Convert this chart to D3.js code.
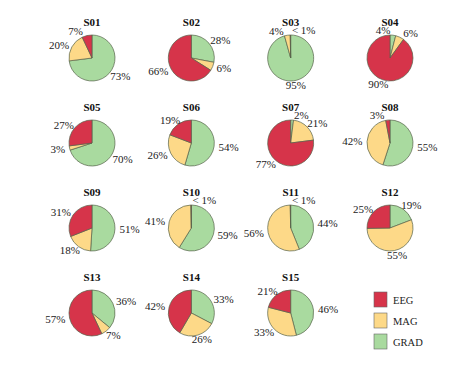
<!DOCTYPE html>
<html>
<head>
<meta charset="utf-8">
<script src="https://cdn.jsdelivr.net/npm/d3@7"></script>
<style>
  body { margin: 0; background: #fff; }
</style>
</head>
<body>
<div id="chart"></div>
<script>
// subjects and share (%) of each sensor type, drawn clockwise from 12 o'clock: GRAD, MAG, EEG
var subjects = ["S01", "S02", "S03", "S04", "S05", "S06", "S07", "S08",
                "S09", "S10", "S11", "S12", "S13", "S14", "S15"];
var grad = [73, 28, 95, 4, 70, 54, 2, 55, 51, 59, 44, 19, 36, 33, 46];
var mag  = [20, 6, 4, 6, 3, 26, 21, 42, 18, 41, 56, 55, 7, 26, 33];
var eeg  = [7, 66, 0.3, 90, 27, 19, 77, 3, 31, 0.3, 0.3, 25, 57, 42, 21];
var legendOrder = ["EEG", "MAG", "GRAD"];

var colors = {EEG: "#d6344a", MAG: "#fdd988", GRAD: "#a9da9f"};
var edge = "#56634a";
var font = "'Liberation Serif', 'Times New Roman', Times, serif";

var width = 474, height = 379;
var r = 23;

var svg = d3.select("#chart").append("svg")
    .attr("width", width)
    .attr("height", height)
    .style("font-family", font);

// grid of small multiples, 4 per row
var colX = d3.scalePoint().domain([0, 1, 2, 3]).range([92, 390]);
var rowY = d3.scalePoint().domain([0, 1, 2, 3]).range([58, 313]);

var pie = d3.pie().sort(null).value(function (d) { return d.value; });
var arc = d3.arc().innerRadius(0).outerRadius(r);

function fmt(v) {
    return v < 1 ? "< 1%" : Math.round(v) + "%";
}

subjects.forEach(function (name, i) {
    var cx = colX(i % 4), cy = rowY(Math.floor(i / 4));
    var rows = [
        {key: "GRAD", value: grad[i]},
        {key: "MAG", value: mag[i]},
        {key: "EEG", value: eeg[i]}
    ];
    var g = svg.append("g").attr("transform", "translate(" + cx + "," + cy + ")");

    g.append("text")
        .attr("x", 0)
        .attr("y", -r - 9)
        .attr("text-anchor", "middle")
        .attr("font-family", font)
        .style("font-size", "11px")
        .style("font-weight", "bold")
        .style("fill", "#111")
        .text(name);

    var arcs = pie(rows);
    g.selectAll("path")
        .data(arcs)
        .enter()
        .append("path")
        .attr("d", arc)
        .attr("fill", function (d) { return colors[d.data.key]; })
        .attr("stroke", edge)
        .attr("stroke-width", 0.7);

    // label angle (degrees from top, clockwise, signed)
    var labs = arcs.map(function (d) {
        var a = (d.startAngle + d.endAngle) / 2;
        var deg = a * 180 / Math.PI;
        if (deg > 180) deg -= 360;
        return {d: d, a: a, deg: deg, anchor: null};
    });
    var top = labs.filter(function (l) { return Math.abs(l.deg) < 30; })
        .sort(function (p, q) { return p.deg - q.deg; });
    if (top.length > 1) {
        top[0].anchor = "end";
        top[top.length - 1].anchor = "start";
    } else if (top.length === 1) {
        top[0].anchor = top[0].deg >= 0 ? "start" : "end";
    }
    labs.forEach(function (l) {
        if (l.d.data.value < 1) l.anchor = "start";
    });

    labs.forEach(function (l) {
        var px = Math.sin(l.a) * r * 1.2,
            py = -Math.cos(l.a) * r * 1.2;
        var t = g.append("text")
            .attr("y", py)
            .attr("dy", "0.35em")
            .attr("font-family", font)
            .style("font-size", "11px")
            .style("fill", "#222")
            .text(fmt(l.d.data.value));
        if (l.anchor) {
            t.attr("x", l.anchor === "end" ? px - 3 : px + 1.5)
             .attr("text-anchor", l.anchor);
        } else {
            var w = t.node().getComputedTextLength();
            var s = Math.sin(l.a);
            t.attr("x", px - w * (1 - s) / 2);
        }
    });
});

// legend
var legend = svg.append("g").attr("transform", "translate(374,292)");
legendOrder.forEach(function (k, i) {
    legend.append("rect")
        .attr("x", 0)
        .attr("y", i * 21)
        .attr("width", 13)
        .attr("height", 15)
        .attr("fill", colors[k])
        .attr("stroke", "#666")
        .attr("stroke-width", 0.6);
    legend.append("text")
        .attr("x", 19)
        .attr("y", i * 21 + 11.5)
        .attr("font-family", font)
        .style("font-size", "10.5px")
        .style("fill", "#222")
        .text(k);
});
</script>
</body>
</html>
